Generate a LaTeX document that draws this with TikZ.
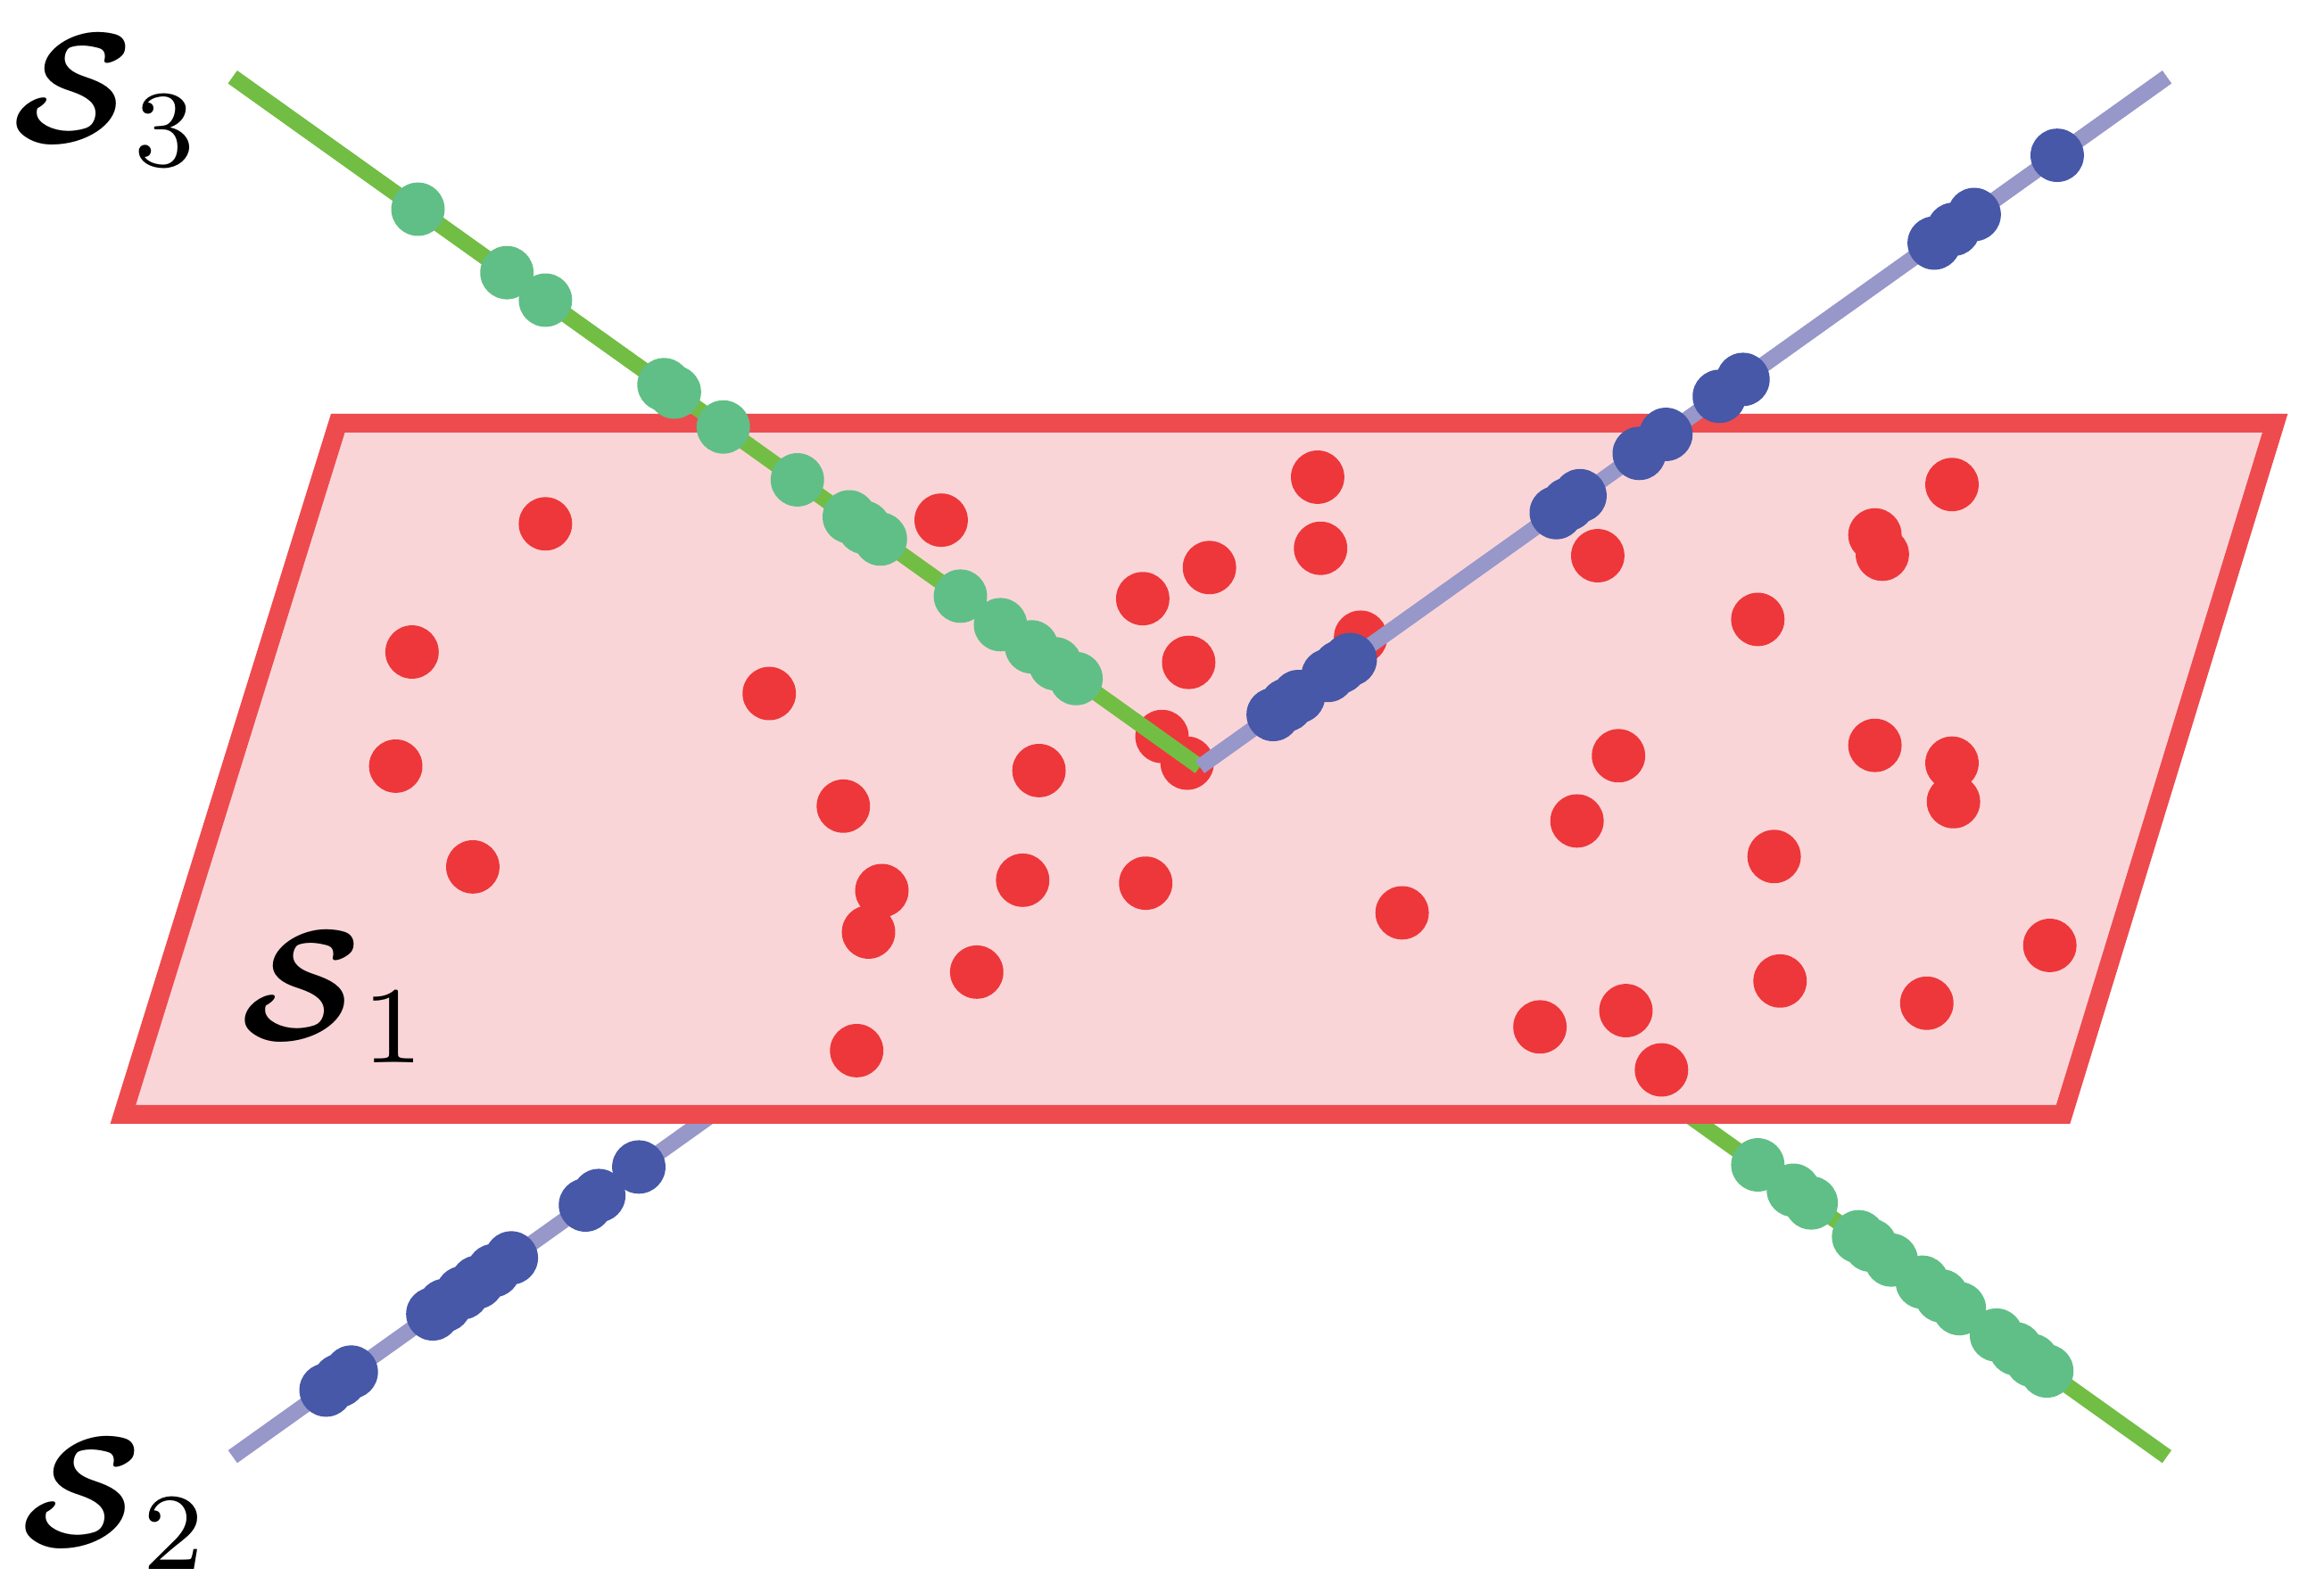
\documentclass[tikz,border=0pt]{standalone}
\usepackage{amsmath,bm}
\definecolor{planefill}{HTML}{FAD5D8}
\definecolor{planeedge}{HTML}{EE4B4F}
\definecolor{reddot}{HTML}{EE373A}
\definecolor{gline}{HTML}{72BE44}
\definecolor{gdot}{HTML}{60BF86}
\definecolor{bline}{HTML}{9797C9}
\definecolor{bdot}{HTML}{4658A7}
\begin{document}
\begin{tikzpicture}[x=0.01cm,y=-0.01cm,
  linestyle/.style={line width=3pt, line cap=butt},
  dotr/.style={radius=0.18cm},
  lbl/.style={inner sep=0pt, scale=3.0}]
\useasboundingbox (0,0) rectangle (1568,1075);
% line end points and meeting point
\coordinate (gA) at (157,52);
\coordinate (gB) at (1462,983);
\coordinate (bA) at (157,983);
\coordinate (bB) at (1462,52);
\coordinate (X) at (809.5,517.5);
% full lines (lower parts hidden by plane)
\draw[linestyle, gline] (gA) -- (gB);
\draw[linestyle, bline] (bA) -- (bB);
% plane
\coordinate (p1) at (228,285.5);
\coordinate (p2) at (1535,285.5);
\coordinate (p3) at (1392,752);
\coordinate (p4) at (83,752);
\draw[line width=3.6pt, line join=miter, draw=planeedge, fill=planefill] (p1) -- (p2) -- (p3) -- (p4) -- cycle;
% red dots in plane
\foreach \x/\y in {368/353.5, 278/440, 267/517, 319/585, 519/468, 635/351, 569/544, 595/601,
  586/629, 578/709, 659/656, 690/594, 701/520, 771/404, 802/447, 773/596, 784/497, 801/515,
  816/383, 889/322, 891/370, 918/430, 1078/375, 1317/327, 1265/361, 1270/374, 1186/418,
  1092/510, 1064/554, 1265/503, 1317/515, 1318/541, 1197/578, 946/616, 1383/638, 1201/662,
  1300/677, 1039/693, 1097/682, 1121/722}
  \fill[reddot] (\x,\y) circle[dotr];
% upper parts of lines, above the plane
\draw[linestyle, gline] (gA) -- (X);
\draw[linestyle, bline] (X) -- (bB);
% green dots
\foreach \x in {282, 342, 368, 448, 455, 488, 538, 573, 583, 594, 648, 675, 696, 712, 726,
  1186, 1210, 1222, 1254, 1262, 1276, 1297, 1310, 1322, 1347, 1360, 1371, 1381}
  \fill[gdot] (\x,{52+0.713410*(\x-157)}) circle[dotr];
% blue dots
\foreach \x in {220, 229, 237, 292, 300, 312, 322, 333, 345, 395, 404, 431,
  859, 868, 876, 896, 904, 911, 1050, 1058, 1066, 1106, 1124, 1160, 1176, 1305, 1318, 1332, 1388}
  \fill[bdot] (\x,{983-0.713410*(\x-157)}) circle[dotr];
% labels
\node[lbl] (s3) at (73,68) {$\bm{\mathcal{S}}_3$};
\node[lbl] (s2) at (79,1015) {$\bm{\mathcal{S}}_2$};
\node[lbl] (s1) at (227,673) {$\bm{\mathcal{S}}_1$};
\end{tikzpicture}
\end{document}
